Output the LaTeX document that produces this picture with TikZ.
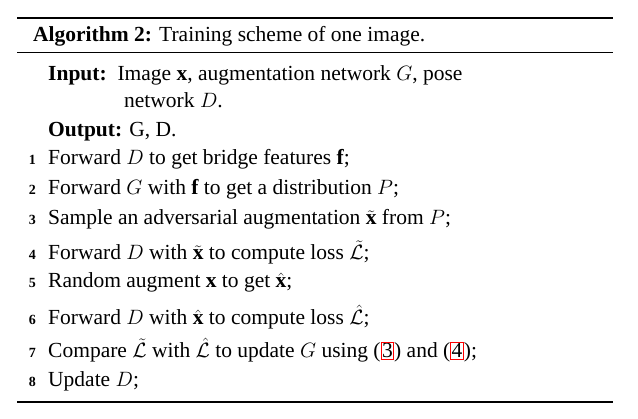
\documentclass[tikz,border=0pt]{standalone}
\usepackage{amsmath}
\usepackage{fontspec}
\setmainfont{Liberation Serif}
\newcommand{\refbox}[1]{{\setlength{\fboxsep}{0.6pt}\setlength{\fboxrule}{0.8pt}\fcolorbox{red}{white}{#1}}}
\begin{document}
\begin{tikzpicture}[x=1pt,y=-1pt,
  txt/.style={anchor=base west,inner sep=0pt,font=\fontsize{21.5}{25}\selectfont},
  num/.style={anchor=base east,inner sep=0pt,font=\fontsize{14}{16}\selectfont\bfseries},
  rulel/.style={line width=1.6pt}]
\useasboundingbox (0,0) rectangle (638,419);
\coordinate (r1a) at (17,18); \coordinate (r1b) at (613,18);
\coordinate (r2a) at (17,53); \coordinate (r2b) at (613,53);
\coordinate (r3a) at (17,402); \coordinate (r3b) at (613,402);
\draw[rulel] (r1a) -- (r1b);
\draw[line width=1pt] (r2a) -- (r2b);
\draw[rulel] (r3a) -- (r3b);
\node[txt] (cap) at (33,42) {\textbf{Algorithm 2:} Training scheme of one image.};
\node[txt] (in) at (48,81) {\textbf{Input:}\, Image $\mathbf{x}$, augmentation network $G$, pose};
\node[txt] (in2) at (124,108) {network $D$.};
\node[txt] (out) at (48,137) {\textbf{Output:} G, D.};
\node[num] (n1) at (36,165) {1};
\node[txt] (l1) at (48,165) {Forward $D$ to get bridge features $\mathbf{f}$;};
\node[num] (n2) at (36,195) {2};
\node[txt] (l2) at (48,195) {Forward $G$ with $\mathbf{f}$ to get a distribution $P$;};
\node[num] (n3) at (36,225) {3};
\node[txt] (l3) at (48,225) {Sample an adversarial augmentation $\tilde{\mathbf{x}}$ from $P$;};
\node[num] (n4) at (36,260) {4};
\node[txt] (l4) at (48,260) {Forward $D$ with $\tilde{\mathbf{x}}$ to compute loss $\tilde{\mathcal{L}}$;};
\node[num] (n5) at (36,288) {5};
\node[txt] (l5) at (48,288) {Random augment $\mathbf{x}$ to get $\hat{\mathbf{x}}$;};
\node[num] (n6) at (36,325) {6};
\node[txt] (l6) at (48,325) {Forward $D$ with $\hat{\mathbf{x}}$ to compute loss $\hat{\mathcal{L}}$;};
\node[num] (n7) at (36,358) {7};
\node[txt] (l7) at (48,358) {Compare $\tilde{\mathcal{L}}$ with $\hat{\mathcal{L}}$ to update $G$ using (\refbox{3}) and (\refbox{4});};
\node[num] (n8) at (36,387) {8};
\node[txt] (l8) at (48,387) {Update $D$;};
\end{tikzpicture}
\end{document}
